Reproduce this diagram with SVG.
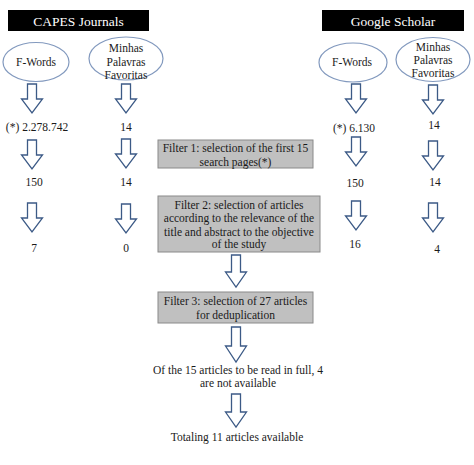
<svg xmlns="http://www.w3.org/2000/svg" width="474" height="465" viewBox="0 0 474 465">
<style>
text{font-family:"Liberation Serif","Times New Roman",serif;font-size:11.5px;fill:#1a1a1a;text-anchor:middle}
.hdr{fill:#000}
.hdr text{fill:#fff;font-size:13.5px}
.ell{fill:#fff;stroke:#8299be;stroke-width:1.2}
.flt{fill:#c0c0c0;stroke:#8a8a8a;stroke-width:1}
.arr{fill:#fff;stroke:#3c5a86;stroke-width:1.3;stroke-linejoin:miter}
</style>
<rect width="474" height="465" fill="#fff"/>
<g id="capes-header" class="hdr"><rect x="8" y="10" width="141" height="21"/><text x="78.5" y="25.5">CAPES Journals</text></g>
<g id="google-header" class="hdr"><rect x="322" y="10" width="142" height="21"/><text x="393" y="25.5">Google Scholar</text></g>
<g id="capes-fwords"><ellipse class="ell" cx="36" cy="62" rx="33" ry="19.5"/><text x="36" y="66">F-Words</text></g>
<g id="capes-minhas"><ellipse class="ell" cx="126" cy="58.5" rx="37" ry="21.5"/><text x="126" y="52">Minhas</text><text x="126" y="66">Palavras</text><text x="126" y="79">Favoritas</text></g>
<g id="google-fwords"><ellipse class="ell" cx="353" cy="62.5" rx="34" ry="19.5"/><text x="352" y="66">F-Words</text></g>
<g id="google-minhas"><ellipse class="ell" cx="433" cy="59.5" rx="37" ry="22"/><text x="433" y="51">Minhas</text><text x="433" y="64">Palavras</text><text x="433" y="77">Favoritas</text></g>
<g id="capes-counts"><text x="37" y="131">(*) 2.278.742</text><text x="34" y="186">150</text><text x="34" y="252">7</text></g>
<g id="capes-minhas-counts"><text x="126" y="131">14</text><text x="126" y="186">14</text><text x="126" y="252">0</text></g>
<g id="google-counts"><text x="354" y="132">(*) 6.130</text><text x="355" y="187">150</text><text x="355" y="248">16</text></g>
<g id="google-minhas-counts"><text x="434" y="129">14</text><text x="435" y="186">14</text><text x="437" y="253">4</text></g>
<g id="filter1"><rect class="flt" x="158" y="140" width="155" height="28"/><text x="235.5" y="152">Filter 1: selection of the first 15</text><text x="235.5" y="166">search pages(*)</text></g>
<g id="filter2"><rect class="flt" x="158" y="196" width="162" height="56"/><text x="239" y="209">Filter 2: selection of articles</text><text x="239" y="222">according to the relevance of the</text><text x="239" y="236">title and abstract to the objective</text><text x="239" y="248">of the study</text></g>
<g id="filter3"><rect class="flt" x="158" y="292" width="155" height="31"/><text x="235.5" y="305">Filter 3: selection of 27 articles</text><text x="235.5" y="319">for deduplication</text></g>
<g id="read-full"><text x="238" y="374">Of the 15 articles to be read in full, 4</text><text x="238" y="387">are not available</text></g>
<g id="total"><text x="237" y="441">Totaling 11 articles available</text></g>
<g id="connectors" class="arr">
<path d="M27.5,84 H36.5 V99 H42.5 L32,113 L21.5,99 H27.5 Z"/>
<path d="M27.5,140 H36.5 V155 H42.5 L32,169 L21.5,155 H27.5 Z"/>
<path d="M27.5,203 H36.5 V218 H42.5 L32,232 L21.5,218 H27.5 Z"/>
<path d="M121.5,84 H130.5 V99 H136.5 L126,113 L115.5,99 H121.5 Z"/>
<path d="M121.5,139 H130.5 V154 H136.5 L126,168 L115.5,154 H121.5 Z"/>
<path d="M121.5,204 H130.5 V219 H136.5 L126,233 L115.5,219 H121.5 Z"/>
<path d="M351.5,84 H360.5 V99 H366.5 L356,113 L345.5,99 H351.5 Z"/>
<path d="M351.5,137 H360.5 V152 H366.5 L356,166 L345.5,152 H351.5 Z"/>
<path d="M351.5,201 H360.5 V216 H366.5 L356,230 L345.5,216 H351.5 Z"/>
<path d="M428.5,85 H437.5 V100 H443.5 L433,114 L422.5,100 H428.5 Z"/>
<path d="M428.5,141 H437.5 V156 H443.5 L433,170 L422.5,156 H428.5 Z"/>
<path d="M428.5,203 H437.5 V218 H443.5 L433,232 L422.5,218 H428.5 Z"/>
<path d="M231.5,255 H240.5 V272 H246.5 L236,287 L225.5,272 H231.5 Z"/>
<path d="M231.5,327 H240.5 V346 H246.5 L236,362 L225.5,346 H231.5 Z"/>
<path d="M231.5,394 H240.5 V412 H246.5 L236,427 L225.5,412 H231.5 Z"/>
</g>
</svg>
